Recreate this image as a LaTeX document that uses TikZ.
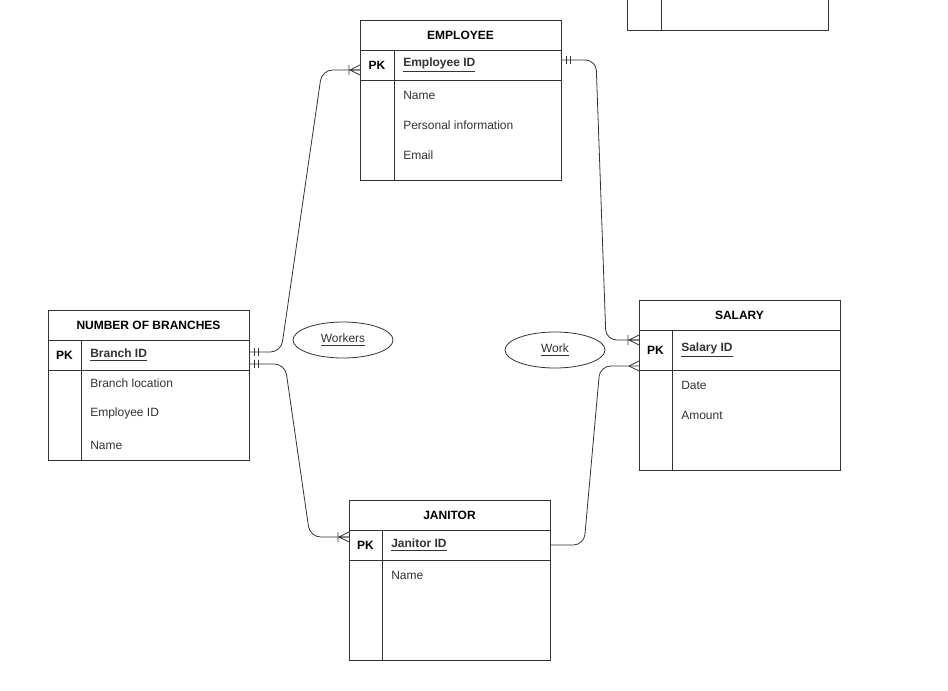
\documentclass[tikz,border=0pt]{standalone}
\usepackage{fontspec}
\setmainfont{Liberation Sans}
\tikzset{
  tbl/.style={draw=black!80,line width=0.6pt},
  lbl/.style={font=\fontsize{9}{11}\selectfont,anchor=west,inner sep=0pt,text=black!80},
  hdr/.style={font=\fontsize{9}{11}\selectfont\bfseries,inner sep=0pt},
  rel/.style={draw=black!80,line width=0.6pt,rounded corners=8},
  pics/many/.style={code={\draw[black!80,line width=0.6pt] (-10,0)--(0,-5) (-10,0)--(0,5) (-10,0)--(0,0) (-11,-5)--(-11,5);}},
  pics/crow/.style={code={\draw[black!80,line width=0.6pt] (-10,0)--(0,-5) (-10,0)--(0,5);}},
  pics/one/.style={code={\draw[black!80,line width=0.6pt] (5,-4)--(5,4) (9,-4)--(9,4);}},
}
\newcommand{\entity}[8]{% x1,y1,x2,y2,colx,name,title,key
  \draw[tbl] (#1,#2) rectangle (#3,#4);
  \draw[tbl] (#1,#2+30) -- (#3,#2+30) (#1,#2+60) -- (#3,#2+60) (#5,#2+30) -- (#5,#4);
  \node[hdr] (#6) at ({(#1+#3)/2},#2+15) {#7};
  \node[hdr] at ({(#1+#5)/2},#2+45) {PK};
  \node[lbl,font=\fontsize{9}{11}\selectfont\bfseries] at (#5+9,#2+45) {\underline{#8}};
}
\begin{document}
\begin{tikzpicture}[x=0.75pt,y=-0.75pt]
\useasboundingbox (0,0) rectangle (948,690);
% partial table at top right
\draw[tbl] (627,-2) -- (627,30) -- (828,30) -- (828,-2);
\draw[tbl] (661,-2) -- (661,30);
% entities
\entity{360}{20}{561}{180}{394}{emp}{EMPLOYEE}{Employee ID}
\node[lbl] at (403,95) {Name};
\node[lbl] at (403,125) {Personal information};
\node[lbl] at (403,155) {Email};
\entity{48}{310}{249}{460}{81}{br}{NUMBER OF BRANCHES}{Branch ID}
\node[lbl] at (90,383) {Branch location};
\node[lbl] at (90,413) {Employee ID};
\node[lbl] at (90,445) {Name};
\draw[tbl] (639,300) rectangle (840,470);
\draw[tbl] (639,330) -- (840,330) (639,370) -- (840,370) (672,330) -- (672,470);
\node[hdr] (sal) at (739.5,315) {SALARY};
\node[hdr] at (655.5,350) {PK};
\node[lbl,font=\fontsize{9}{11}\selectfont\bfseries] at (681,350) {\underline{Salary ID}};
\node[lbl] at (681,385) {Date};
\node[lbl] at (681,415) {Amount};
\entity{349}{500}{550}{660}{382}{jan}{JANITOR}{Janitor ID}
\node[lbl] at (391,575) {Name};
% relationship ellipses
\draw[tbl] (343,340) ellipse [x radius=50,y radius=18];
\node[lbl,anchor=center] (workers) at (343,340) {\underline{Workers}};
\draw[tbl] (555,350) ellipse [x radius=50,y radius=18];
\node[lbl,anchor=center] (work) at (555,350) {\underline{Work}};
% connector ends
\coordinate (brA) at (249,352);
\coordinate (brB) at (249,364);
\coordinate (empL) at (360,70);
\coordinate (empR) at (561,60);
\coordinate (janL) at (349,537);
\coordinate (janR) at (550,545);
\coordinate (salA) at (639,340);
\coordinate (salB) at (639,366);
% connectors
\draw[rel] (brA) -- ++(32,0) -- (322,70) -- (empL);
\draw[rel] (brB) -- ++(36,0) -- (310,537) -- (janL);
\draw[rel] (empR) -- (596,60) -- (606,340) -- (salA);
\draw[rel] (janR) -- (584,545) -- (600,366) -- (salB);
\pic at (brA) {one};
\pic at (brB) {one};
\pic at (empR) {one};
\pic at (empL) {many};
\pic at (janL) {many};
\pic at (salA) {many};
\pic at (salB) {crow};
\end{tikzpicture}
\end{document}
